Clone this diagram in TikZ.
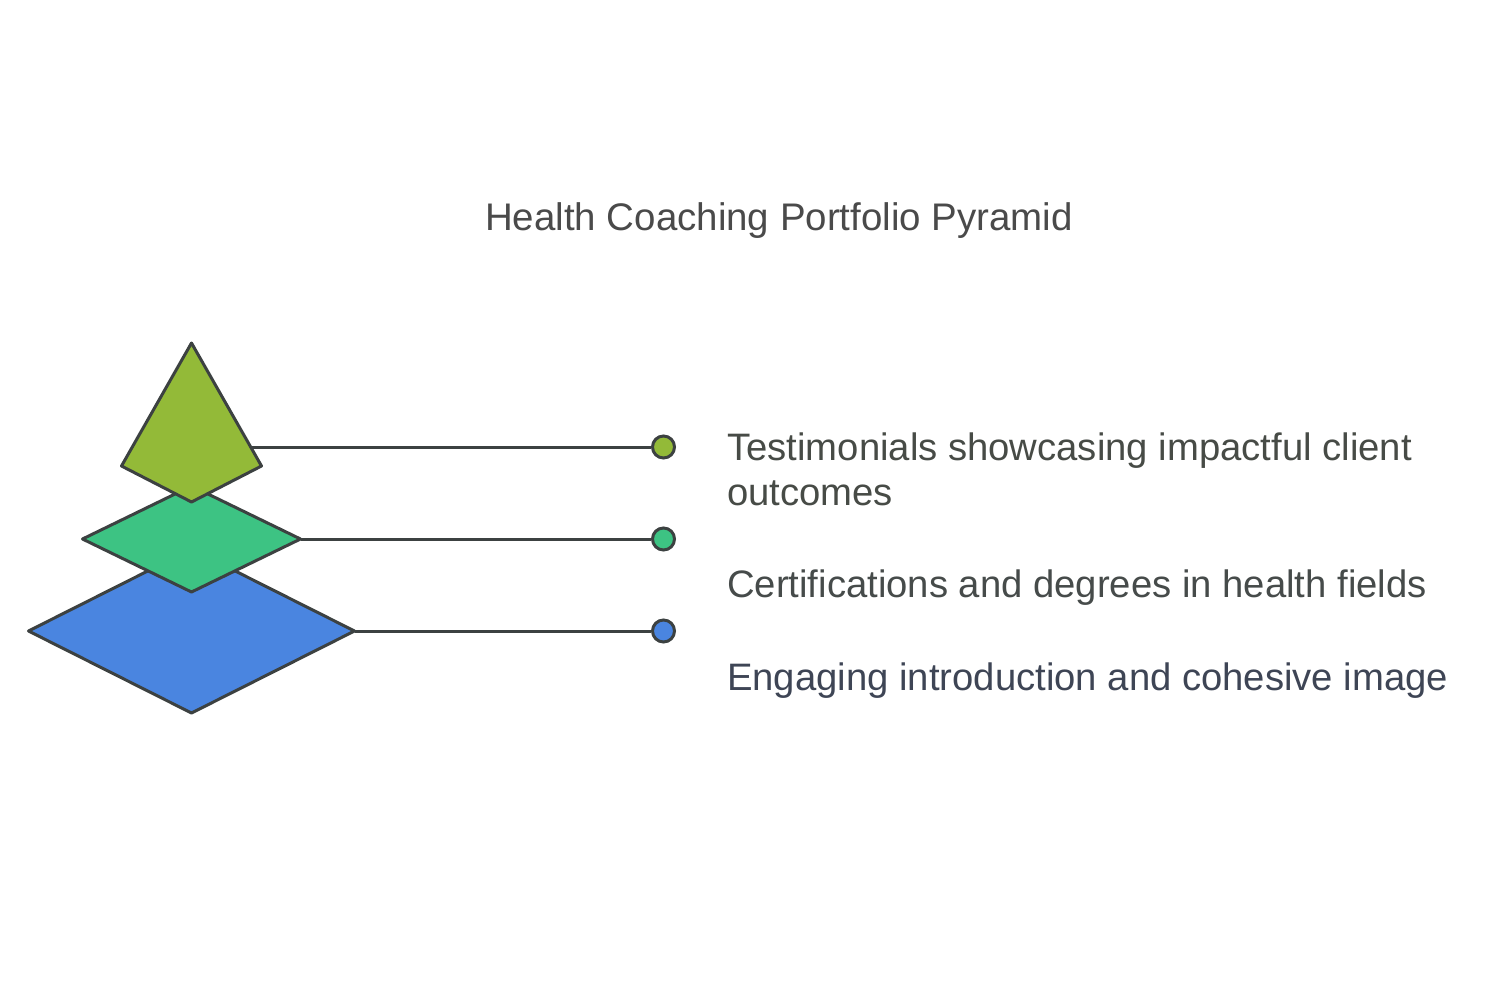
\documentclass[tikz,border=0pt]{standalone}
\usepackage{fontspec}
\setmainfont{Liberation Sans}
\definecolor{outl}{HTML}{3C4141}
\definecolor{kiteg}{HTML}{93BA38}
\definecolor{midg}{HTML}{3DC383}
\definecolor{baseb}{HTML}{4A85E0}
\definecolor{titlec}{HTML}{4A4A4A}
\definecolor{txa}{HTML}{474B46}
\definecolor{txb}{HTML}{464B4A}
\definecolor{txc}{HTML}{3E4555}
\tikzset{
  layer/.style={draw=outl, line width=3bp, line join=round},
  conn/.style={draw=outl, line width=3bp},
  dot/.style={circle, draw=outl, line width=3bp, minimum size=22bp, inner sep=0pt},
  lbl/.style={anchor=base west, align=left, inner sep=0pt, font=\fontsize{38.4}{45}\selectfont},
}
\begin{document}
\begin{tikzpicture}[x=1bp,y=-1bp]
\useasboundingbox (0,0) rectangle (1500,994);
\fill[white] (0,0) rectangle (1500,994);
% layers
\draw[layer, fill=baseb] (28.5,631) -- (191.5,549) -- (354.5,631) -- (191.5,713) -- cycle;
\draw[layer, fill=midg] (82.5,539) -- (191.5,486) -- (300.5,539) -- (191.5,592) -- cycle;
\draw[layer, fill=kiteg] (191.5,343) -- (261.5,466) -- (191.5,502) -- (121.5,466) -- cycle;
% connector start points on layer edges
\coordinate (s1) at (250.7,447);
\coordinate (s2) at (300.5,539);
\coordinate (s3) at (354.5,631);
% dots
\node[dot, fill=kiteg] (d1) at (663.5,447) {};
\node[dot, fill=midg] (d2) at (663.5,539) {};
\node[dot, fill=baseb] (d3) at (663.5,631) {};
\draw[conn] (s1) -- (d1.west);
\draw[conn] (s2) -- (d2.west);
\draw[conn] (s3) -- (d3.west);
% title
\node[anchor=base, inner sep=0pt, text=titlec, font=\fontsize{38.6}{44}\selectfont] (title) at (779,230) {Health Coaching Portfolio Pyramid};
% labels
\node[lbl, text=txa] (l1) at (727,505) {Testimonials showcasing impactful client\\outcomes};
\node[lbl, text=txb] (l2) at (727,597) {Certifications and degrees in health fields};
\node[lbl, text=txc] (l3) at (727,690) {Engaging introduction and cohesive image};
\end{tikzpicture}
\end{document}
